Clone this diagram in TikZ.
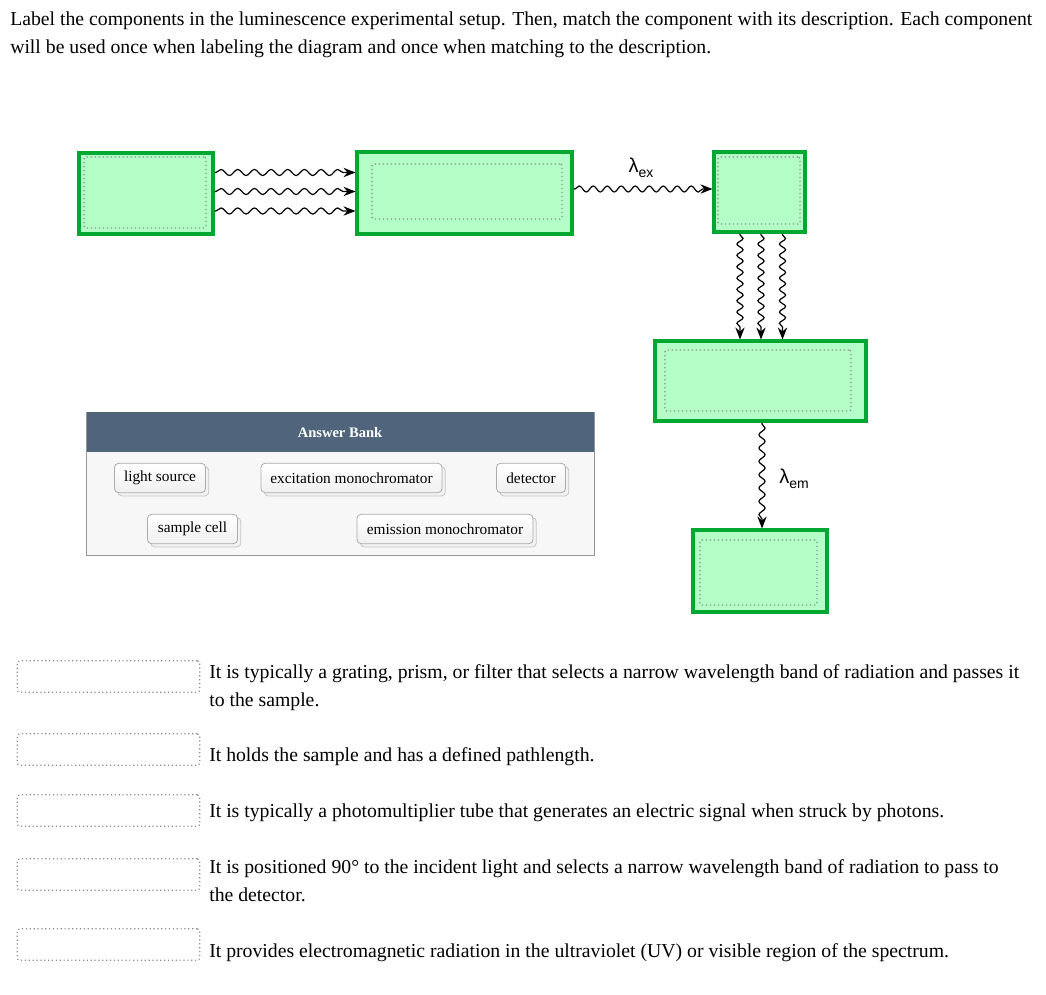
\documentclass[tikz,border=0pt]{standalone}
\usepackage{fontspec}
\setmainfont{Liberation Serif}
\newfontfamily\lamfont{Liberation Sans}
\usetikzlibrary{calc,decorations.pathmorphing,arrows.meta,shadows}
\definecolor{cgreen}{RGB}{0,168,50}
\definecolor{cfill}{RGB}{179,255,199}
\definecolor{bankhead}{RGB}{80,100,124}
\definecolor{bankbody}{RGB}{247,247,247}
\definecolor{bankline}{RGB}{150,150,150}
\definecolor{dotgray}{RGB}{140,140,140}
\begin{document}
\begin{tikzpicture}[x=0.75pt,y=-0.75pt,
  comp/.style={draw=cgreen, fill=cfill, line width=2.3pt, inner sep=0pt},
  inbox/.style={draw=dotgray, dotted, line width=1pt, rounded corners=1.5pt, inner sep=0pt},
  wave/.style={decorate, decoration={snake, segment length=12.5pt, amplitude=2.3pt, pre length=1pt, post length=7pt}, line width=0.9pt, -{Stealth[length=9pt,width=7pt,inset=3pt]}},
  vwave/.style={wave, decoration={snake, segment length=8.5pt, amplitude=2.3pt, pre length=1pt, post length=7pt}},
  txt/.style={font=\fontsize{14.8}{17}\selectfont, inner sep=0pt, anchor=base west},
  btn/.style={draw=gray!65, line width=0.6pt, rounded corners=3pt, top color=white, bottom color=gray!12,
    copy shadow={shadow xshift=2.5pt, shadow yshift=-2.5pt, draw=gray!45, fill=gray!10},
    font=\fontsize{11.5}{13}\selectfont, inner sep=0pt, minimum height=22pt},
  ansbox/.style={draw=dotgray, dotted, line width=0.9pt, rounded corners=2pt, inner sep=0pt, minimum width=137pt, minimum height=23.5pt},
  lam/.style={font=\lamfont\fontsize{15}{17}\selectfont, inner sep=0pt}
]
\useasboundingbox (0,0) rectangle (1046,995);
\fill[white] (0,0) rectangle (1046,995);

% header text
\node[txt] (h1) at (10,26) {Label the components in the luminescence experimental setup. Then, match the component with its description. Each component};
\node[txt] (h2) at (10,54) {will be used once when labeling the diagram and once when matching to the description.};

% components
\node[comp, minimum width=134*0.75pt, minimum height=81*0.75pt] (ls) at (146,193.5) {};
\node[inbox, minimum width=122*0.75pt, minimum height=71*0.75pt] (lsin) at (145,192.5) {};
\node[comp, minimum width=215*0.75pt, minimum height=82*0.75pt] (ex) at (464.5,193) {};
\node[inbox, minimum width=190*0.75pt, minimum height=55*0.75pt] (exin) at (467,191.5) {};
\node[comp, minimum width=91*0.75pt, minimum height=80*0.75pt] (sc) at (759.5,192) {};
\node[inbox, minimum width=82*0.75pt, minimum height=67*0.75pt] (scin) at (759,190.5) {};
\node[comp, minimum width=211*0.75pt, minimum height=80*0.75pt] (em) at (760.5,381) {};
\node[inbox, minimum width=186*0.75pt, minimum height=61*0.75pt] (emin) at (758,380.5) {};
\node[comp, minimum width=134*0.75pt, minimum height=82*0.75pt] (det) at (760,571) {};
\node[inbox, minimum width=117*0.75pt, minimum height=65*0.75pt] (detin) at (758.5,572.5) {};

% light source -> excitation monochromator
\coordinate (a1) at ($(ls.east)+(0,-21)$);
\coordinate (a2) at ($(ls.east)+(0,-2)$);
\coordinate (a3) at ($(ls.east)+(0,17.5)$);
\draw[wave] (a1) -- (a1 -| ex.west);
\draw[wave] (a2) -- (a2 -| ex.west);
\draw[wave] (a3) -- (a3 -| ex.west);

% excitation -> sample
\coordinate (b1) at ($(ex.east)+(0,-4)$);
\draw[wave, decoration={snake, segment length=10.5pt, amplitude=2.3pt, pre length=1pt, post length=7pt}] (b1) -- (b1 -| sc.west);
\node[lam] (lex) at (641,168) {λ\raisebox{-0.45ex}{\fontsize{10.5}{11}\selectfont ex}};

% sample -> emission
\coordinate (c1) at ($(sc.south)+(-19.5,0)$);
\coordinate (c2) at ($(sc.south)+(1.5,0)$);
\coordinate (c3) at ($(sc.south)+(23,0)$);
\draw[vwave] (c1) -- (c1 |- em.north);
\draw[vwave] (c2) -- (c2 |- em.north);
\draw[vwave] (c3) -- (c3 |- em.north);

% emission -> detector
\coordinate (d1) at ($(em.south)+(1.5,0)$);
\draw[vwave, decoration={snake, segment length=10pt, amplitude=2.3pt, pre length=1pt, post length=7pt}] (d1) -- (d1 |- det.north);
\node[lam] (lem) at (794,479) {λ\raisebox{-0.45ex}{\fontsize{10.5}{11}\selectfont em}};

% answer bank
\node[draw=bankline, fill=bankbody, line width=0.75pt, minimum width=508*0.75pt, minimum height=143*0.75pt, inner sep=0pt] (bank) at (340,483.5) {};
\node[fill=bankhead, minimum width=507*0.75pt, minimum height=40*0.75pt, inner sep=0pt, anchor=north] (bankh) at ($(bank.north)+(0,0.6)$) {};
\node[text=white, font=\fontsize{10.9}{12}\selectfont\bfseries, inner sep=0pt] (bankt) at (bankh.center) {Answer Bank};

\node[btn, minimum width=91*0.75pt] (b-ls) at (160,478) {light source};
\node[btn, minimum width=181*0.75pt] (b-ex) at (351.5,478) {excitation monochromator};
\node[btn, minimum width=69*0.75pt] (b-det) at (531,478) {detector};
\node[btn, minimum width=90*0.75pt] (b-sc) at (192.5,529) {sample cell};
\node[btn, minimum width=176*0.75pt] (b-em) at (445,529) {emission monochromator};

% answer boxes and descriptions
\node[ansbox] (r1) at (108.5,676.5) {};
\node[ansbox] (r2) at (108.5,749.5) {};
\node[ansbox] (r3) at (108.5,810.5) {};
\node[ansbox] (r4) at (108.5,874.5) {};
\node[ansbox] (r5) at (108.5,944.5) {};

\node[txt] (t1a) at (209,678) {It is typically a grating, prism, or filter that selects a narrow wavelength band of radiation and passes it};
\node[txt] (t1b) at (209,706) {to the sample.};
\node[txt] (t2) at (209,761) {It holds the sample and has a defined pathlength.};
\node[txt] (t3) at (209,817) {It is typically a photomultiplier tube that generates an electric signal when struck by photons.};
\node[txt] (t4a) at (209,873) {It is positioned 90° to the incident light and selects a narrow wavelength band of radiation to pass to};
\node[txt] (t4b) at (209,901) {the detector.};
\node[txt] (t5) at (209,957) {It provides electromagnetic radiation in the ultraviolet (UV) or visible region of the spectrum.};
\end{tikzpicture}
\end{document}
